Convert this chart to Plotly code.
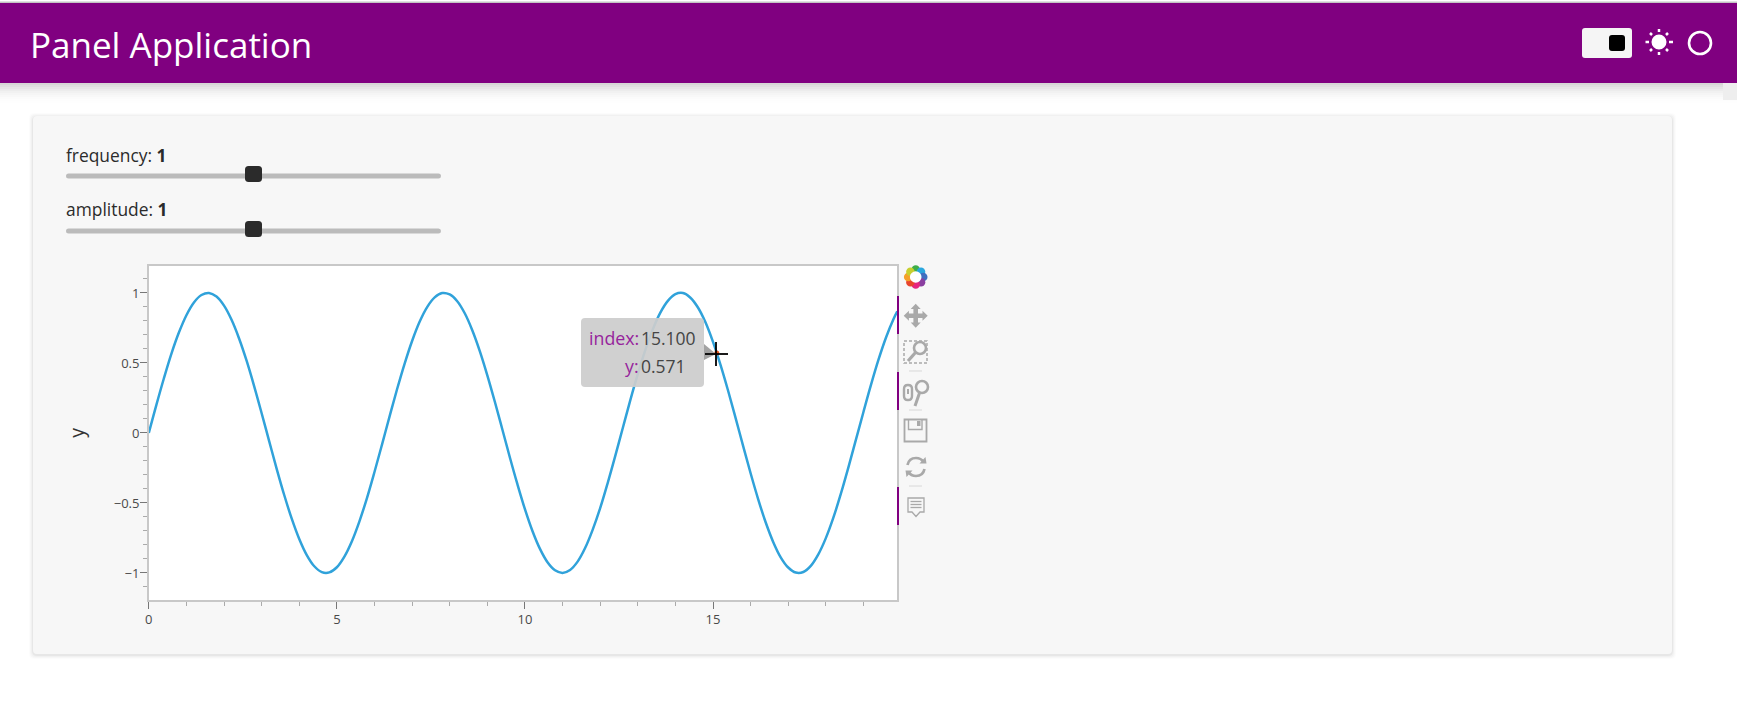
import plotly.graph_objects as go

# ---- data ----
index_values = [0.0, 0.2, 0.4, 0.6, 0.8, 1.0, 1.2, 1.4, 1.6, 1.8, 2.0, 2.2, 2.4, 2.6, 2.8, 3.0, 3.2, 3.4, 3.6, 3.8,
                4.0, 4.2, 4.4, 4.6, 4.8, 5.0, 5.2, 5.4, 5.6, 5.8, 6.0, 6.2, 6.4, 6.6, 6.8, 7.0, 7.2, 7.4, 7.6, 7.8,
                8.0, 8.2, 8.4, 8.6, 8.8, 9.0, 9.2, 9.4, 9.6, 9.8, 10.0, 10.2, 10.4, 10.6, 10.8, 11.0, 11.2, 11.4, 11.6, 11.8,
                12.0, 12.2, 12.4, 12.6, 12.8, 13.0, 13.2, 13.4, 13.6, 13.8, 14.0, 14.2, 14.4, 14.6, 14.8, 15.0, 15.2, 15.4, 15.6, 15.8,
                16.0, 16.2, 16.4, 16.6, 16.8, 17.0, 17.2, 17.4, 17.6, 17.8, 18.0, 18.2, 18.4, 18.6, 18.8, 19.0, 19.2, 19.4, 19.6, 19.8, 19.9]
y_values = [0.0, 0.199, 0.389, 0.565, 0.717, 0.841, 0.932, 0.985, 1.0, 0.974, 0.909, 0.808, 0.675, 0.516, 0.335, 0.141, -0.058, -0.256, -0.443, -0.612,
            -0.757, -0.872, -0.952, -0.994, -0.996, -0.959, -0.883, -0.773, -0.631, -0.465, -0.279, -0.083, 0.117, 0.312, 0.494, 0.657, 0.794, 0.899, 0.968, 0.999,
            0.989, 0.941, 0.855, 0.734, 0.585, 0.412, 0.223, 0.025, -0.175, -0.366, -0.544, -0.7, -0.828, -0.923, -0.981, -1.0, -0.979, -0.919, -0.822, -0.692,
            -0.537, -0.358, -0.166, 0.034, 0.233, 0.42, 0.592, 0.74, 0.859, 0.943, 0.991, 0.999, 0.966, 0.896, 0.79, 0.65, 0.486, 0.303, 0.108, -0.092,
            -0.288, -0.472, -0.638, -0.778, -0.888, -0.961, -0.997, -0.993, -0.949, -0.867, -0.751, -0.605, -0.434, -0.246, -0.048, 0.15, 0.343, 0.523, 0.682, 0.814, 0.868]
hover_index = [15.1]
hover_y = [0.571]
x_ticks = [0, 5, 10, 15]
y_ticks = [-1, -0.5, 0, 0.5, 1]
y_tick_labels = ["\u22121", "\u22120.5", "0", "0.5", "1"]
title_text = "Panel Application"
slider_labels = ["frequency: <b>1</b>", "amplitude: <b>1</b>"]

W, H = 1737, 703
FONT = "Open Sans, Noto Sans, sans-serif"
PURPLE = "#800080"
ICON = "#a9a9a9"
CARD = "#f7f7f7"

fx = lambda v: v / W
fy = lambda v: 1 - v / H
shapes = []


def path(d, fill=None, line=None, lw=0, layer="below", dash=None):
    """d is a list of (cmd, px, py, ...) tuples in page pixels."""
    out = []
    for seg in d:
        c, nums = seg[0], seg[1:]
        pts = []
        for i in range(0, len(nums), 2):
            pts.append(f"{fx(nums[i]):.6f},{fy(nums[i + 1]):.6f}")
        out.append(c + " ".join(pts))
    shapes.append(dict(type="path", xref="paper", yref="paper", path=" ".join(out), layer=layer,
                       fillcolor=fill or "rgba(0,0,0,0)",
                       line=dict(color=line or "rgba(0,0,0,0)", width=lw, dash=dash or "solid")))


def rrect(x0, y0, x1, y1, r, **kw):
    path([("M", x0 + r, y0), ("L", x1 - r, y0), ("Q", x1, y0, x1, y0 + r), ("L", x1, y1 - r),
          ("Q", x1, y1, x1 - r, y1), ("L", x0 + r, y1), ("Q", x0, y1, x0, y1 - r), ("L", x0, y0 + r),
          ("Q", x0, y0, x0 + r, y0), ("Z",)], **kw)


def seg(x0, y0, x1, y1, color=ICON, lw=2, layer="below", dash=None):
    path([("M", x0, y0), ("L", x1, y1)], line=color, lw=lw, layer=layer, dash=dash)


def circle(cx, cy, r, fill=None, line=None, lw=0, layer="below"):
    shapes.append(dict(type="circle", xref="paper", yref="paper", x0=fx(cx - r), x1=fx(cx + r),
                       y0=fy(cy + r), y1=fy(cy - r), layer=layer, fillcolor=fill or "rgba(0,0,0,0)",
                       line=dict(color=line or "rgba(0,0,0,0)", width=lw)))


# header
path([("M", 0, 1.5), ("L", W, 1.5), ("L", W, 3), ("L", 0, 3), ("Z",)], fill="#c4c4c4")
for i in range(10):
    a = 0.032 * (1 - i / 10) ** 1.3
    path([("M", 0, 83), ("L", W, 83), ("L", W, 85 + 2 * i), ("L", 0, 85 + 2 * i), ("Z",)], fill=f"rgba(0,0,0,{a:.3f})")
path([("M", 1723, 83), ("L", W, 83), ("L", W, 100), ("L", 1723, 100), ("Z",)], fill="#eeeeee")
path([("M", 0, 3), ("L", W, 3), ("L", W, 83), ("L", 0, 83), ("Z",)], fill=PURPLE)
rrect(1582, 28, 1632, 58, 3, fill="#f5f5f5")
rrect(1609, 35, 1625, 51, 3, fill="#000000")
circle(1659, 42, 7.5, fill="#ffffff")
for x0, y0, x1, y1 in [(1659, 29, 1659, 32), (1659, 52, 1659, 55), (1645.5, 42, 1649, 42), (1669, 42, 1673, 42),
                       (1650, 33, 1652, 35), (1666, 49, 1668, 51), (1650, 51, 1652, 49), (1666, 35, 1668, 33)]:
    seg(x0, y0, x1, y1, color="#ffffff", lw=2.5)
circle(1700, 43, 11, line="#ffffff", lw=2.6)

# card
for grow, a in [(4, 0.012), (3, 0.018), (2, 0.025), (1, 0.04)]:
    rrect(33 - grow, 116 - grow + 1, 1672 + grow, 654 + grow + 1, 5, fill=f"rgba(0,0,0,{a})")
rrect(33, 116, 1672, 654, 4, fill=CARD)

# sliders
for cy in (176, 231):
    rrect(66, cy - 2.5, 441, cy + 2.5, 2.5, fill="#bbbbbb")
    rrect(245, cy - 10, 262, cy + 6, 3.5, fill="#2b2b2b")

# plot background
path([("M", 148, 265), ("L", 897, 265), ("L", 897, 600), ("L", 148, 600), ("Z",)], fill="#ffffff")

# toolbar: logo
petals = ["#3fae49", "#2aa7de", "#3f6fc0", "#8a3fa0", "#e5267f", "#e8452c", "#f5a02a", "#c7cf2e"]
centers = [(915.7, 269.5), (921, 271.7), (923.2, 277), (921, 282.3), (915.7, 284.5), (910.4, 282.3), (908.2, 277), (910.4, 271.7)]
for (cx, cy), col in zip(centers, petals):
    circle(cx, cy, 4.3, fill=col)
circle(915.7, 277, 5.8, fill="#ffffff")

# toolbar: active-tool bars (over the plot's frame line)
for y0, y1 in [(296, 334), (372, 410), (487, 525)]:
    path([("M", 897, y0), ("L", 899, y0), ("L", 899, y1), ("L", 897, y1), ("Z",)], fill=PURPLE, layer="above")

# pan
cx, cy = 915.7, 315.7
s = 2.3
path([("M", cx, cy - 12), ("L", cx + 5, cy - 6.8), ("L", cx + s, cy - 6.8), ("L", cx + s, cy - s),
      ("L", cx + 6.8, cy - s), ("L", cx + 6.8, cy - 5), ("L", cx + 12, cy), ("L", cx + 6.8, cy + 5),
      ("L", cx + 6.8, cy + s), ("L", cx + s, cy + s), ("L", cx + s, cy + 6.8), ("L", cx + 5, cy + 6.8),
      ("L", cx, cy + 12), ("L", cx - 5, cy + 6.8), ("L", cx - s, cy + 6.8), ("L", cx - s, cy + s),
      ("L", cx - 6.8, cy + s), ("L", cx - 6.8, cy + 5), ("L", cx - 12, cy), ("L", cx - 6.8, cy - 5),
      ("L", cx - 6.8, cy - s), ("L", cx - s, cy - s), ("L", cx - s, cy - 6.8), ("L", cx - 5, cy - 6.8), ("Z",)],
     fill=ICON)

# box zoom
path([("M", 904, 341), ("L", 927, 341), ("L", 927, 363), ("L", 904, 363), ("Z",)], line=ICON, lw=1.5, dash="3px,2px")
circle(920, 348, 6, fill=CARD, line=ICON, lw=2.6)
seg(915.5, 352.5, 908, 361, lw=3.2)
seg(909, 371, 922, 371, color="#d8d8d8", lw=1)

# wheel zoom
rrect(904, 385, 912, 400, 4, line=ICON, lw=2.4)
seg(908, 389, 908, 394, lw=2)
circle(922, 387, 6, fill=CARD, line=ICON, lw=2.6)
seg(919.5, 393, 915, 406, lw=3)
seg(909, 410, 922, 410, color="#d8d8d8", lw=1)

# save
path([("M", 904.5, 419.5), ("L", 926.5, 419.5), ("L", 926.5, 441.5), ("L", 904.5, 441.5), ("Z",)], line=ICON, lw=1.8)
path([("M", 908.5, 419.5), ("L", 908.5, 429.5), ("L", 922, 429.5), ("L", 922, 419.5)], line=ICON, lw=1.4)
path([("M", 917, 421), ("L", 920.5, 421), ("L", 920.5, 426), ("L", 917, 426), ("Z",)], fill=ICON)

# reset
path([("M", 907.5, 465), ("Q", 909, 458, 916, 458), ("Q", 921, 458, 923.5, 462)], line=ICON, lw=2.7)
path([("M", 924.5, 469), ("Q", 923, 476, 916, 476), ("Q", 911, 476, 908.5, 472)], line=ICON, lw=2.7)
path([("M", 919.5, 463.5), ("L", 926.5, 463.5), ("L", 925.5, 457), ("Z",)], fill=ICON)
path([("M", 912.5, 470.5), ("L", 905.5, 470.5), ("L", 906.5, 477), ("Z",)], fill=ICON)
seg(909, 486, 922, 486, color="#d8d8d8", lw=1)

# hover comment
path([("M", 908, 498), ("L", 924, 498), ("L", 924, 512), ("L", 920, 512), ("L", 916, 516.5), ("L", 912, 512),
      ("L", 908, 512), ("Z",)], line=ICON, lw=1.3)
for yy in (501.5, 504.5, 507.5):
    seg(910.5, yy, 921.5, yy, lw=1.3)

# tooltip + cursor (above the curve)
rrect(581, 318, 704, 387, 4, fill="rgba(204,204,204,0.93)", layer="above")
path([("M", 704, 344), ("L", 716, 354), ("L", 704, 360), ("Z",)], fill="#a3a3a3", layer="above")
seg(716, 342, 716, 366, color="#000000", lw=1.8, layer="above")
seg(705, 354, 728, 354, color="#000000", lw=1.8, layer="above")

fig = go.Figure()
fig.add_trace(go.Scatter(x=index_values, y=y_values, mode="lines",
                         line=dict(color="#30a2da", width=2.5, shape="spline", smoothing=1),
                         hoverinfo="skip", showlegend=False))
fig.add_trace(go.Scatter(x=hover_index, y=hover_y, mode="markers", marker=dict(color="#e5561f", size=5),
                         hoverinfo="skip", showlegend=False))


def label(x, y, text, size, color, anchor="left"):
    return dict(xref="paper", yref="paper", x=fx(x), y=fy(y), text=text, showarrow=False, xanchor=anchor,
                yanchor="middle", align=anchor, xshift=0, font=dict(family=FONT, size=size, color=color))


annotations = [
    label(28, 44, title_text, 35, "#ffffff"),
    label(64, 155, slider_labels[0], 17.4, "#2b2b2b"),
    label(64, 209, slider_labels[1], 17.4, "#2b2b2b"),
    label(641, 338, "index:", 17.8, "#96249c", "right"),
    label(639, 338, "15.100", 17.5, "#444444"),
    label(641, 366, "y:", 17.8, "#96249c", "right"),
    label(639, 366, "0.571", 17.5, "#444444"),
]

axis_common = dict(automargin=False, showline=True, mirror=True, linecolor="#c8c8c8", linewidth=1.5, showgrid=False,
                   zeroline=False, ticks="outside", ticklen=7, tickwidth=1, tickcolor="#777777",
                   tickfont=dict(family=FONT, size=13, color="#4a4a4a"))

fig.update_layout(
    width=W, height=H, autosize=False,
    margin=dict(l=0, r=0, t=0, b=0, pad=0),
    paper_bgcolor="#ffffff", plot_bgcolor="rgba(0,0,0,0)",
    showlegend=False, shapes=shapes, annotations=annotations, hovermode=False,
    xaxis=dict(domain=[fx(148.8), fx(897.3)], range=[0, 19.9], tickmode="array", tickvals=x_ticks,
               minor=dict(dtick=1, ticks="outside", ticklen=4, tickcolor="#aaaaaa", tickwidth=1), **axis_common),
    yaxis=dict(domain=[fy(600), fy(265.5)], range=[-1.193, 1.196], tickmode="array", tickvals=y_ticks,
               ticktext=y_tick_labels, ticklabelstandoff=-2,
               minor=dict(dtick=0.1, ticks="outside", ticklen=4, tickcolor="#aaaaaa", tickwidth=1),
               title=dict(text="y", standoff=24, font=dict(family=FONT, size=19.5, color="#333333")), **axis_common),
)

fig.write_html("out.html", config={"displayModeBar": False, "responsive": False},
               post_script="document.body.style.margin='0';document.body.style.overflow='hidden';")
